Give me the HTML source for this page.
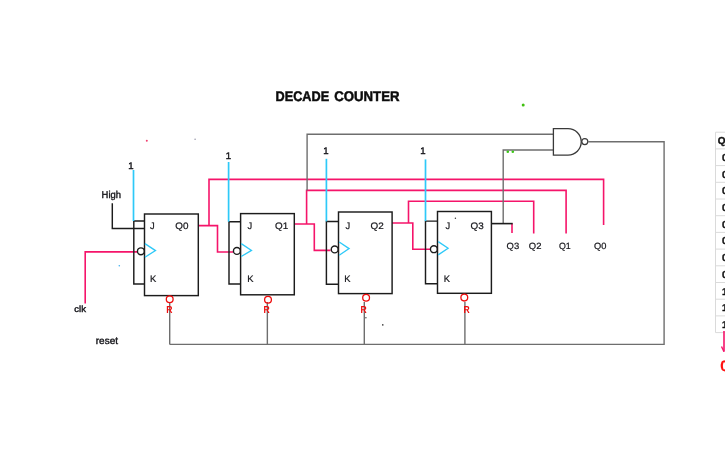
<!DOCTYPE html>
<html><head><meta charset="utf-8"><style>
html,body{margin:0;padding:0;background:#fff;}
body{width:725px;height:453px;overflow:hidden;}
svg{display:block;font-family:"Liberation Sans", sans-serif;will-change:transform;text-rendering:geometricPrecision;}
</style></head><body>
<svg width="725" height="453" viewBox="0 0 725 453">
<rect width="725" height="453" fill="#fff"/>
<text x="275.5" y="100.5" font-size="14" fill="#0c0c0c" font-weight="bold" text-anchor="start" textLength="53.6" lengthAdjust="spacingAndGlyphs" stroke="#0c0c0c" stroke-width="0.5">DECADE</text>
<text x="334.2" y="100.5" font-size="14" fill="#0c0c0c" font-weight="bold" text-anchor="start" textLength="65.3" lengthAdjust="spacingAndGlyphs" stroke="#0c0c0c" stroke-width="0.5">COUNTER</text>
<polyline points="85.2,303.5 85.2,251.9 137,251.9" fill="none" stroke="#f5146a" stroke-width="1.6" stroke-linejoin="miter" stroke-linecap="butt" />
<polyline points="198.3,225.6 217.5,225.6 217.5,252 233,252" fill="none" stroke="#f5146a" stroke-width="1.6" stroke-linejoin="miter" stroke-linecap="butt" />
<polyline points="209,225.6 209,179.4 603.6,179.4 603.6,225.1" fill="none" stroke="#f5146a" stroke-width="1.6" stroke-linejoin="miter" stroke-linecap="butt" />
<polyline points="294.3,224 314.3,224 314.3,250.4 330.5,250.4" fill="none" stroke="#f5146a" stroke-width="1.6" stroke-linejoin="miter" stroke-linecap="butt" />
<polyline points="306.6,224 306.6,190.4 566.1,190.4 566.1,233.5" fill="none" stroke="#f5146a" stroke-width="1.6" stroke-linejoin="miter" stroke-linecap="butt" />
<polyline points="392.1,223 412.8,223 412.8,249.2 430.4,249.2" fill="none" stroke="#f5146a" stroke-width="1.6" stroke-linejoin="miter" stroke-linecap="butt" />
<polyline points="408.5,223 408.5,201.2 533.7,201.2 533.7,233.5" fill="none" stroke="#f5146a" stroke-width="1.6" stroke-linejoin="miter" stroke-linecap="butt" />
<polyline points="512,223.6 512,233" fill="none" stroke="#f5146a" stroke-width="1.6" stroke-linejoin="miter" stroke-linecap="butt" />
<polyline points="307.1,190.4 307.1,134.2 553.4,134.2" fill="none" stroke="#6e6e6e" stroke-width="1.4" stroke-linejoin="miter" stroke-linecap="butt" />
<polyline points="503.2,223.6 503.2,150 553.4,150" fill="none" stroke="#6e6e6e" stroke-width="1.4" stroke-linejoin="miter" stroke-linecap="butt" />
<polyline points="588.3,141.7 664.1,141.7 664.1,344.4 169.8,344.4" fill="none" stroke="#6e6e6e" stroke-width="1.4" stroke-linejoin="miter" stroke-linecap="butt" />
<polyline points="169.7,302.0 169.7,344.4" fill="none" stroke="#6e6e6e" stroke-width="1.4" stroke-linejoin="miter" stroke-linecap="butt" />
<polyline points="267.35,302.0 267.35,344.4" fill="none" stroke="#6e6e6e" stroke-width="1.4" stroke-linejoin="miter" stroke-linecap="butt" />
<polyline points="364.3,302.0 364.3,344.4" fill="none" stroke="#6e6e6e" stroke-width="1.4" stroke-linejoin="miter" stroke-linecap="butt" />
<polyline points="464.9,302.0 464.9,344.4" fill="none" stroke="#6e6e6e" stroke-width="1.4" stroke-linejoin="miter" stroke-linecap="butt" />
<polyline points="112.3,203.2 112.3,228.5 144.5,228.5" fill="none" stroke="#1c1c1c" stroke-width="1.45" stroke-linejoin="miter" stroke-linecap="butt" />
<polyline points="491.4,223.6 512.7,223.6" fill="none" stroke="#1c1c1c" stroke-width="1.6" stroke-linejoin="miter" stroke-linecap="butt" />
<rect x="144.5" y="214" width="53.80000000000001" height="81.60000000000002" fill="none" stroke="#1c1c1c" stroke-width="1.45"/>
<polyline points="144.5,221 133.8,221 133.8,284 144.5,284" fill="none" stroke="#1c1c1c" stroke-width="1.45" stroke-linejoin="miter" stroke-linecap="butt" />
<circle cx="140.9" cy="251.3" r="3.45" fill="none" stroke="#1c1c1c" stroke-width="1.4"/>
<polyline points="144.9,243.6 155.5,250.6 144.9,257.2" fill="none" stroke="#2ec9f8" stroke-width="1.3"/>
<circle cx="169.7" cy="299.3" r="3.4" fill="none" stroke="#ee0c0c" stroke-width="1.3"/>
<text x="169.25" y="312.8" font-size="10.2" fill="#ee0c0c" font-weight="bold" text-anchor="middle" textLength="6.2" lengthAdjust="spacingAndGlyphs">R</text>
<polyline points="133.5,170 133.5,221" fill="none" stroke="#2ec9f8" stroke-width="1.7" stroke-linejoin="miter" stroke-linecap="butt" />
<text x="131" y="168.6" font-size="9.6" fill="#15151a" font-weight="normal" text-anchor="middle" stroke="#15151a" stroke-width="0.4">1</text>
<text x="150.1" y="228.5" font-size="9.4" fill="#15151a" font-weight="normal" text-anchor="start" stroke="#15151a" stroke-width="0.2">J</text>
<text x="149.9" y="282.0" font-size="9.4" fill="#15151a" font-weight="normal" text-anchor="start" stroke="#15151a" stroke-width="0.2">K</text>
<text x="175.2" y="228.5" font-size="9.4" fill="#15151a" font-weight="normal" text-anchor="start" textLength="13.2" lengthAdjust="spacingAndGlyphs" stroke="#15151a" stroke-width="0.2">Q0</text>
<rect x="240.6" y="213.6" width="53.70000000000002" height="81.20000000000002" fill="none" stroke="#1c1c1c" stroke-width="1.45"/>
<polyline points="240.6,221.7 229.0,221.7 229.0,284 240.6,284" fill="none" stroke="#1c1c1c" stroke-width="1.45" stroke-linejoin="miter" stroke-linecap="butt" />
<circle cx="236.9" cy="250.9" r="3.45" fill="none" stroke="#1c1c1c" stroke-width="1.4"/>
<polyline points="241.2,243.6 251.5,250.4 241.2,256.5" fill="none" stroke="#2ec9f8" stroke-width="1.3"/>
<circle cx="268.0" cy="299.8" r="3.4" fill="none" stroke="#ee0c0c" stroke-width="1.3"/>
<text x="266.6" y="312.8" font-size="10.2" fill="#ee0c0c" font-weight="bold" text-anchor="middle" textLength="6.2" lengthAdjust="spacingAndGlyphs">R</text>
<polyline points="228.6,162 228.6,221.7" fill="none" stroke="#2ec9f8" stroke-width="1.7" stroke-linejoin="miter" stroke-linecap="butt" />
<text x="228.3" y="159.0" font-size="9.6" fill="#15151a" font-weight="normal" text-anchor="middle" stroke="#15151a" stroke-width="0.4">1</text>
<text x="247.5" y="228.5" font-size="9.4" fill="#15151a" font-weight="normal" text-anchor="start" stroke="#15151a" stroke-width="0.2">J</text>
<text x="247.3" y="282.0" font-size="9.4" fill="#15151a" font-weight="normal" text-anchor="start" stroke="#15151a" stroke-width="0.2">K</text>
<text x="275.0" y="228.5" font-size="9.4" fill="#15151a" font-weight="normal" text-anchor="start" textLength="13.2" lengthAdjust="spacingAndGlyphs" stroke="#15151a" stroke-width="0.2">Q1</text>
<rect x="338.5" y="212.0" width="53.60000000000002" height="81.60000000000002" fill="none" stroke="#1c1c1c" stroke-width="1.45"/>
<polyline points="338.5,221.4 326.4,221.4 326.4,284.3 338.5,284.3" fill="none" stroke="#1c1c1c" stroke-width="1.45" stroke-linejoin="miter" stroke-linecap="butt" />
<circle cx="334.7" cy="249.4" r="3.45" fill="none" stroke="#1c1c1c" stroke-width="1.4"/>
<polyline points="339.2,242 349.1,248.6 339.2,255.2" fill="none" stroke="#2ec9f8" stroke-width="1.3"/>
<circle cx="366.1" cy="297.8" r="3.4" fill="none" stroke="#ee0c0c" stroke-width="1.3"/>
<text x="363.6" y="312.8" font-size="10.2" fill="#ee0c0c" font-weight="bold" text-anchor="middle" textLength="6.2" lengthAdjust="spacingAndGlyphs">R</text>
<polyline points="326.4,158.8 326.4,221.4" fill="none" stroke="#2ec9f8" stroke-width="1.7" stroke-linejoin="miter" stroke-linecap="butt" />
<text x="325.9" y="153.5" font-size="9.6" fill="#15151a" font-weight="normal" text-anchor="middle" stroke="#15151a" stroke-width="0.4">1</text>
<text x="345.5" y="228.5" font-size="9.4" fill="#15151a" font-weight="normal" text-anchor="start" stroke="#15151a" stroke-width="0.2">J</text>
<text x="344.3" y="282.0" font-size="9.4" fill="#15151a" font-weight="normal" text-anchor="start" stroke="#15151a" stroke-width="0.2">K</text>
<text x="370.5" y="228.5" font-size="9.4" fill="#15151a" font-weight="normal" text-anchor="start" textLength="13.2" lengthAdjust="spacingAndGlyphs" stroke="#15151a" stroke-width="0.2">Q2</text>
<rect x="437.5" y="211.5" width="53.89999999999998" height="81.80000000000001" fill="none" stroke="#1c1c1c" stroke-width="1.45"/>
<polyline points="437.5,221.1 425.5,221.1 425.5,283.8 437.5,283.8" fill="none" stroke="#1c1c1c" stroke-width="1.45" stroke-linejoin="miter" stroke-linecap="butt" />
<circle cx="433.9" cy="249.2" r="3.45" fill="none" stroke="#1c1c1c" stroke-width="1.4"/>
<polyline points="438.2,241.6 448.1,248.2 438.2,254.9" fill="none" stroke="#2ec9f8" stroke-width="1.3"/>
<circle cx="464.3" cy="297.6" r="3.4" fill="none" stroke="#ee0c0c" stroke-width="1.3"/>
<text x="466.55" y="312.8" font-size="10.2" fill="#ee0c0c" font-weight="bold" text-anchor="middle" textLength="6.2" lengthAdjust="spacingAndGlyphs">R</text>
<polyline points="425.5,159.4 425.5,221.1" fill="none" stroke="#2ec9f8" stroke-width="1.7" stroke-linejoin="miter" stroke-linecap="butt" />
<text x="423.0" y="153.5" font-size="9.6" fill="#15151a" font-weight="normal" text-anchor="middle" stroke="#15151a" stroke-width="0.4">1</text>
<text x="445.4" y="228.5" font-size="9.4" fill="#15151a" font-weight="normal" text-anchor="start" stroke="#15151a" stroke-width="0.2">J</text>
<text x="443.7" y="282.0" font-size="9.4" fill="#15151a" font-weight="normal" text-anchor="start" stroke="#15151a" stroke-width="0.2">K</text>
<text x="470.59999999999997" y="228.5" font-size="9.4" fill="#15151a" font-weight="normal" text-anchor="start" textLength="13.2" lengthAdjust="spacingAndGlyphs" stroke="#15151a" stroke-width="0.2">Q3</text>
<path d="M553.4,128.6 H568 A13.25,13.25 0 0 1 568,155.1 H553.4 Z" fill="none" stroke="#3a3a3a" stroke-width="1.3"/>
<circle cx="584.8" cy="141.6" r="3" fill="none" stroke="#3a3a3a" stroke-width="1.2"/>
<text x="101.6" y="197.8" font-size="10" fill="#15151a" font-weight="normal" text-anchor="start" textLength="19.4" lengthAdjust="spacingAndGlyphs" stroke="#15151a" stroke-width="0.4">High</text>
<text x="74.3" y="312.1" font-size="9" fill="#15151a" font-weight="normal" text-anchor="start" textLength="11.6" lengthAdjust="spacingAndGlyphs" stroke="#15151a" stroke-width="0.4">clk</text>
<text x="95.8" y="343.6" font-size="10" fill="#15151a" font-weight="normal" text-anchor="start" textLength="22.2" lengthAdjust="spacingAndGlyphs" stroke="#15151a" stroke-width="0.4">reset</text>
<text x="506.6" y="248.7" font-size="9" fill="#15151a" font-weight="normal" text-anchor="start" textLength="12.6" lengthAdjust="spacingAndGlyphs" stroke="#15151a" stroke-width="0.2">Q3</text>
<text x="528.8" y="248.7" font-size="9" fill="#15151a" font-weight="normal" text-anchor="start" textLength="12.6" lengthAdjust="spacingAndGlyphs" stroke="#15151a" stroke-width="0.2">Q2</text>
<text x="559.0" y="248.7" font-size="9" fill="#15151a" font-weight="normal" text-anchor="start" textLength="11.8" lengthAdjust="spacingAndGlyphs" stroke="#15151a" stroke-width="0.2">Q1</text>
<text x="594.0" y="248.7" font-size="9" fill="#15151a" font-weight="normal" text-anchor="start" textLength="12.4" lengthAdjust="spacingAndGlyphs" stroke="#15151a" stroke-width="0.2">Q0</text>
<line x1="715.5" y1="132.20" x2="725" y2="132.20" stroke="#dadada" stroke-width="1"/>
<line x1="715.5" y1="148.90" x2="725" y2="148.90" stroke="#dadada" stroke-width="1"/>
<line x1="715.5" y1="165.60" x2="725" y2="165.60" stroke="#dadada" stroke-width="1"/>
<line x1="715.5" y1="182.30" x2="725" y2="182.30" stroke="#dadada" stroke-width="1"/>
<line x1="715.5" y1="199.00" x2="725" y2="199.00" stroke="#dadada" stroke-width="1"/>
<line x1="715.5" y1="215.70" x2="725" y2="215.70" stroke="#dadada" stroke-width="1"/>
<line x1="715.5" y1="232.40" x2="725" y2="232.40" stroke="#dadada" stroke-width="1"/>
<line x1="715.5" y1="249.10" x2="725" y2="249.10" stroke="#dadada" stroke-width="1"/>
<line x1="715.5" y1="265.80" x2="725" y2="265.80" stroke="#dadada" stroke-width="1"/>
<line x1="715.5" y1="282.50" x2="725" y2="282.50" stroke="#dadada" stroke-width="1"/>
<line x1="715.5" y1="299.20" x2="725" y2="299.20" stroke="#dadada" stroke-width="1"/>
<line x1="715.5" y1="315.90" x2="725" y2="315.90" stroke="#dadada" stroke-width="1"/>
<line x1="715.5" y1="332.60" x2="725" y2="332.60" stroke="#dadada" stroke-width="1"/>
<line x1="715.5" y1="132.2" x2="715.5" y2="332.60" stroke="#dadada" stroke-width="1"/>
<text x="717.8" y="144.2" font-size="10" fill="#111" font-weight="bold" text-anchor="start" stroke="#111" stroke-width="0.4">Q</text>
<text x="722.0" y="160.89999999999998" font-size="10" fill="#111" font-weight="bold" text-anchor="start" stroke="#111" stroke-width="0.4">0</text>
<text x="722.0" y="177.6" font-size="10" fill="#111" font-weight="bold" text-anchor="start" stroke="#111" stroke-width="0.4">0</text>
<text x="722.0" y="194.29999999999998" font-size="10" fill="#111" font-weight="bold" text-anchor="start" stroke="#111" stroke-width="0.4">0</text>
<text x="722.0" y="211.0" font-size="10" fill="#111" font-weight="bold" text-anchor="start" stroke="#111" stroke-width="0.4">0</text>
<text x="722.0" y="227.7" font-size="10" fill="#111" font-weight="bold" text-anchor="start" stroke="#111" stroke-width="0.4">0</text>
<text x="722.0" y="244.39999999999998" font-size="10" fill="#111" font-weight="bold" text-anchor="start" stroke="#111" stroke-width="0.4">0</text>
<text x="722.0" y="261.09999999999997" font-size="10" fill="#111" font-weight="bold" text-anchor="start" stroke="#111" stroke-width="0.4">0</text>
<text x="722.0" y="277.79999999999995" font-size="10" fill="#111" font-weight="bold" text-anchor="start" stroke="#111" stroke-width="0.4">0</text>
<text x="722.0" y="294.5" font-size="10" fill="#111" font-weight="bold" text-anchor="start" stroke="#111" stroke-width="0.4">1</text>
<text x="722.0" y="311.2" font-size="10" fill="#111" font-weight="bold" text-anchor="start" stroke="#111" stroke-width="0.4">1</text>
<text x="722.0" y="327.9" font-size="10" fill="#111" font-weight="bold" text-anchor="start" stroke="#111" stroke-width="0.4">1</text>
<polyline points="724,331 724,351.5" fill="none" stroke="#f5146a" stroke-width="1.6" stroke-linejoin="miter" stroke-linecap="butt" />
<polyline points="721.5,346.5 724,351.8" fill="none" stroke="#f5146a" stroke-width="1.4" stroke-linejoin="miter" stroke-linecap="butt" />
<text x="720.3" y="370.6" font-size="15" fill="#ff1010" font-weight="bold" text-anchor="start" stroke="#ff1010" stroke-width="0.2">0</text>
<circle cx="146.8" cy="140.8" r="1" fill="#f04070"/>
<circle cx="195.1" cy="139.3" r="0.8" fill="#99a"/>
<circle cx="523.2" cy="105" r="1.5" fill="#40c010"/>
<circle cx="119.3" cy="265.7" r="0.8" fill="#40b0f0"/>
<circle cx="455.4" cy="218.2" r="0.7" fill="#333"/>
<circle cx="507.8" cy="151.8" r="1.3" fill="#3cc818"/>
<circle cx="512.8" cy="151.8" r="1.3" fill="#3cc818"/>
<circle cx="365.9" cy="317.7" r="0.7" fill="#444"/>
<circle cx="382.8" cy="324.9" r="0.8" fill="#333"/>
</svg>
</body></html>
